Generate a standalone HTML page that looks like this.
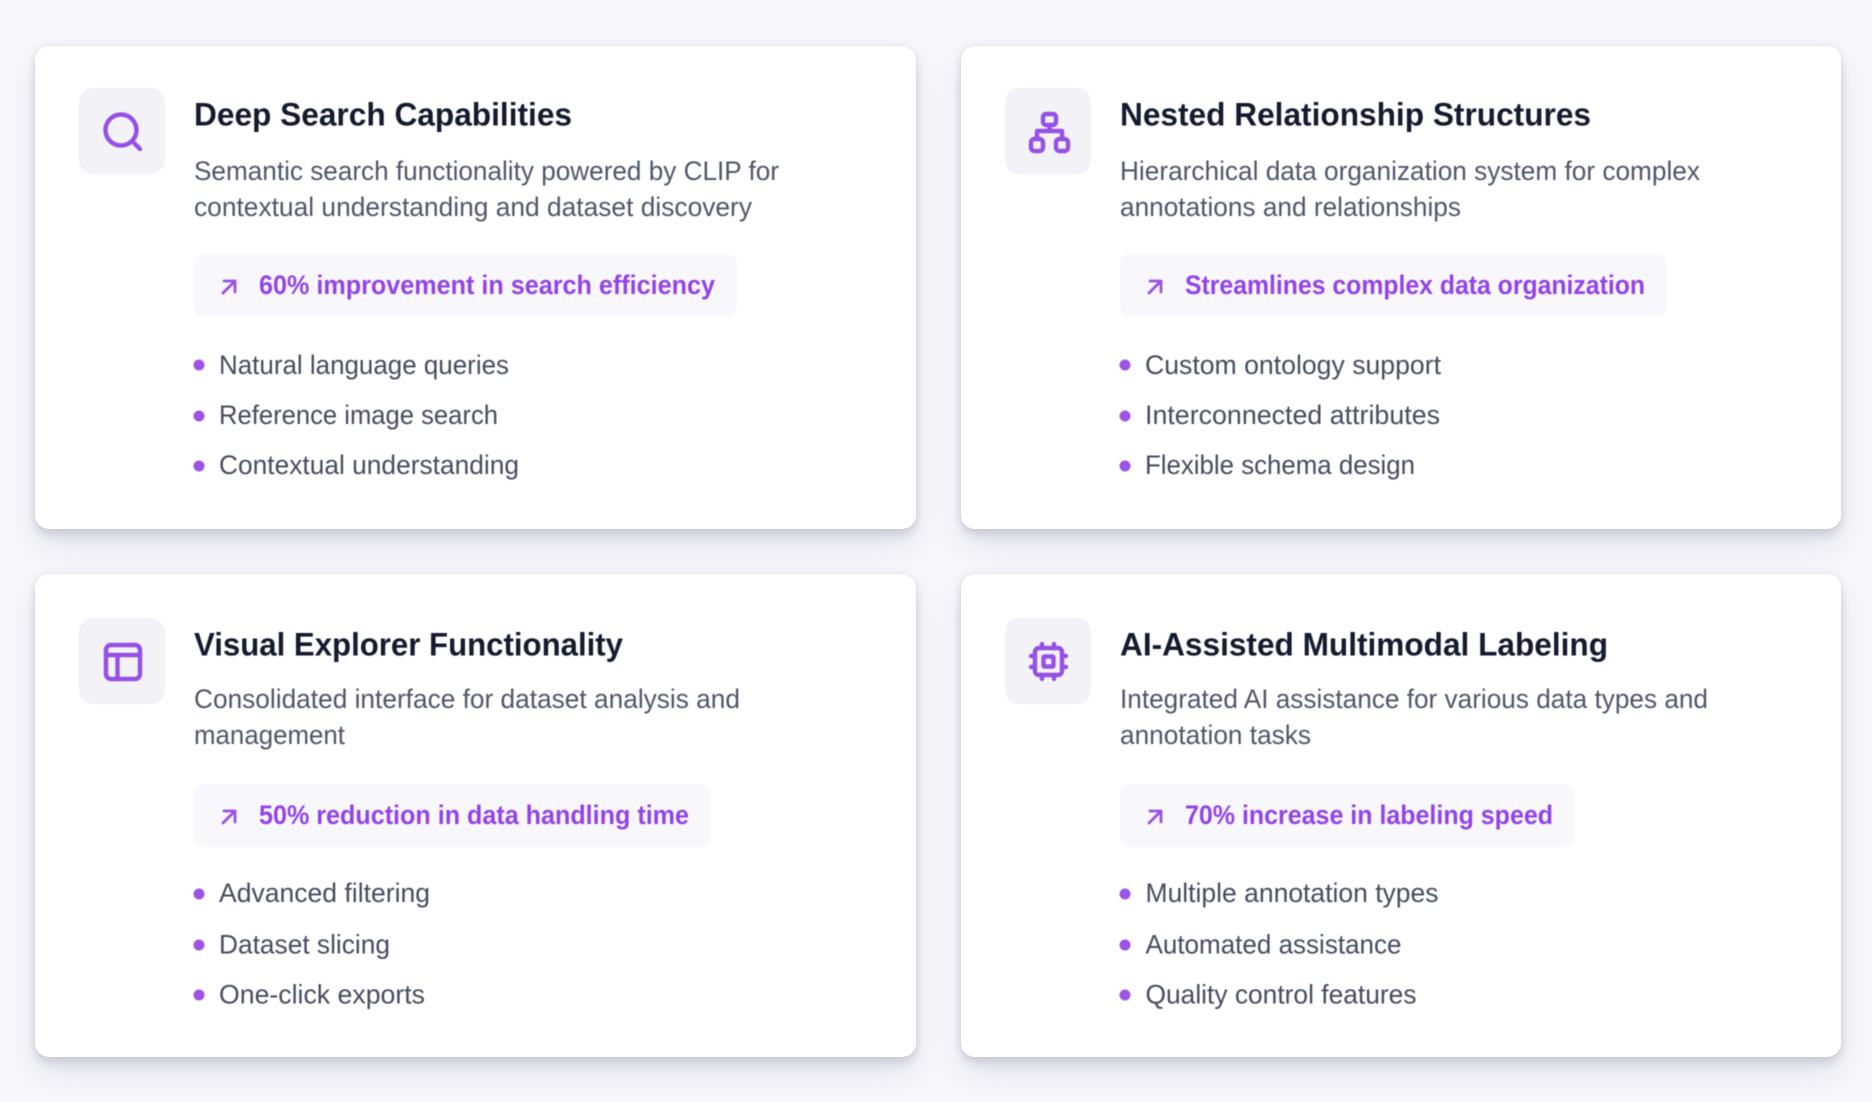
<!DOCTYPE html>
<html><head><meta charset="utf-8"><style>
html,body{margin:0;padding:0;width:1872px;height:1102px;overflow:hidden;background:#f8f8fc}
.c{position:absolute;background:#fff;border-radius:14px;box-shadow:0 16px 30px rgba(60,60,100,.12),0 6px 9px rgba(60,60,100,.12),0 0 8px rgba(60,60,100,.09)}
svg{position:absolute;left:0;top:0;filter:blur(.6px)}
text{font-family:"Liberation Sans",sans-serif}
.t{font-size:32px;font-weight:700;fill:#141b2e}
.d{font-size:26.500px;fill:#4f5668}
.m{font-size:26.500px;font-weight:700;fill:#9343e8}
.b{font-size:26.500px;fill:#464c5e}
.dot{fill:#9f52e6}
.box{fill:#f3f2f7}
.mb{fill:#f8f7fb}
.i{fill:none;stroke:#9550e6;stroke-width:4.400;stroke-linecap:round;stroke-linejoin:round}
.a{fill:none;stroke:#9a52e6;stroke-width:2.800;stroke-linecap:round;stroke-linejoin:round}
</style></head><body>
<div class="c" style="left:35px;top:46px;width:881px;height:483px"></div>
<div class="c" style="left:961px;top:46px;width:880px;height:483px"></div>
<div class="c" style="left:35px;top:574px;width:881px;height:483px"></div>
<div class="c" style="left:961px;top:574px;width:880px;height:483px"></div>
<svg width="1872" height="1102" viewBox="0 0 1872 1102" xmlns="http://www.w3.org/2000/svg">
<!-- Card 1 -->
<rect class="box" x="79" y="88" width="86" height="86" rx="14"/>
<circle class="i" cx="121" cy="130" r="15.500"/><path class="i" d="M132.500 141.500L140 149"/>
<text class="t" x="194" y="125.500" textLength="378" lengthAdjust="spacingAndGlyphs">Deep Search Capabilities</text>
<text class="d" x="194" y="180" textLength="585" lengthAdjust="spacingAndGlyphs">Semantic search functionality powered by CLIP for</text>
<text class="d" x="194" y="216" textLength="558" lengthAdjust="spacingAndGlyphs">contextual understanding and dataset discovery</text>
<rect class="mb" x="194" y="254" width="543" height="63" rx="10"/>
<path class="a" d="M223 293L235 281M224 281H235V292"/>
<text class="m" x="259" y="294" textLength="456" lengthAdjust="spacingAndGlyphs">60% improvement in search efficiency</text>
<circle class="dot" cx="199" cy="365" r="5.500"/><text class="b" x="219" y="374" textLength="290" lengthAdjust="spacingAndGlyphs">Natural language queries</text>
<circle class="dot" cx="199" cy="416" r="5.500"/><text class="b" x="219" y="424" textLength="279" lengthAdjust="spacingAndGlyphs">Reference image search</text>
<circle class="dot" cx="199" cy="466" r="5.500"/><text class="b" x="219" y="474" textLength="300" lengthAdjust="spacingAndGlyphs">Contextual understanding</text>
<!-- Card 2 -->
<rect class="box" x="1005" y="88" width="86" height="86" rx="14"/>
<rect class="i" x="1043" y="114" width="13" height="11" rx="3"/><rect class="i" x="1031" y="139" width="12" height="12" rx="3.500"/><rect class="i" x="1056" y="139" width="12" height="12" rx="3.500"/><path class="i" d="M1049.500 125V131M1037 139V131H1062V139"/>
<text class="t" x="1120" y="125.500" textLength="471" lengthAdjust="spacingAndGlyphs">Nested Relationship Structures</text>
<text class="d" x="1120" y="180" textLength="580" lengthAdjust="spacingAndGlyphs">Hierarchical data organization system for complex</text>
<text class="d" x="1120" y="216" textLength="341" lengthAdjust="spacingAndGlyphs">annotations and relationships</text>
<rect class="mb" x="1120" y="254" width="547" height="63" rx="10"/>
<path class="a" d="M1149 293L1161 281M1150 281H1161V292"/>
<text class="m" x="1185" y="294" textLength="460" lengthAdjust="spacingAndGlyphs">Streamlines complex data organization</text>
<circle class="dot" cx="1125" cy="365" r="5.500"/><text class="b" x="1145" y="374" textLength="296" lengthAdjust="spacingAndGlyphs">Custom ontology support</text>
<circle class="dot" cx="1125" cy="416" r="5.500"/><text class="b" x="1145" y="424" textLength="295" lengthAdjust="spacingAndGlyphs">Interconnected attributes</text>
<circle class="dot" cx="1125" cy="466" r="5.500"/><text class="b" x="1145" y="474" textLength="270" lengthAdjust="spacingAndGlyphs">Flexible schema design</text>
<!-- Card 3 -->
<rect class="box" x="79" y="618" width="86" height="86" rx="14"/>
<rect class="i" x="106" y="645" width="34" height="34" rx="5"/><path class="i" d="M106 655H140M117.500 655V679"/>
<text class="t" x="194" y="655.500" textLength="429" lengthAdjust="spacingAndGlyphs">Visual Explorer Functionality</text>
<text class="d" x="194" y="708" textLength="546" lengthAdjust="spacingAndGlyphs">Consolidated interface for dataset analysis and</text>
<text class="d" x="194" y="744" textLength="151" lengthAdjust="spacingAndGlyphs">management</text>
<rect class="mb" x="194" y="784" width="517" height="63" rx="10"/>
<path class="a" d="M223 823L235 811M224 811H235V822"/>
<text class="m" x="259" y="824" textLength="430" lengthAdjust="spacingAndGlyphs">50% reduction in data handling time</text>
<circle class="dot" cx="199" cy="894" r="5.500"/><text class="b" x="219" y="902" textLength="211" lengthAdjust="spacingAndGlyphs">Advanced filtering</text>
<circle class="dot" cx="199" cy="945" r="5.500"/><text class="b" x="219" y="953.500" textLength="171" lengthAdjust="spacingAndGlyphs">Dataset slicing</text>
<circle class="dot" cx="199" cy="995" r="5.500"/><text class="b" x="219" y="1003.500" textLength="206" lengthAdjust="spacingAndGlyphs">One-click exports</text>
<!-- Card 4 -->
<rect class="box" x="1005" y="618" width="86" height="86" rx="14"/>
<rect class="i" x="1035" y="648" width="27" height="27" rx="4"/><rect class="i" x="1043.500" y="656.500" width="10" height="10" rx="1"/>
<path class="i" d="M1042 644V648M1054 644V648M1042 675V679M1054 675V679M1031 656H1035M1031 667H1035M1062 656H1066M1062 667H1066"/>
<text class="t" x="1120" y="655.500" textLength="488" lengthAdjust="spacingAndGlyphs">AI-Assisted Multimodal Labeling</text>
<text class="d" x="1120" y="708" textLength="588" lengthAdjust="spacingAndGlyphs">Integrated AI assistance for various data types and</text>
<text class="d" x="1120" y="744" textLength="191" lengthAdjust="spacingAndGlyphs">annotation tasks</text>
<rect class="mb" x="1120" y="784" width="454" height="63" rx="10"/>
<path class="a" d="M1149 823L1161 811M1150 811H1161V822"/>
<text class="m" x="1185" y="824" textLength="368" lengthAdjust="spacingAndGlyphs">70% increase in labeling speed</text>
<circle class="dot" cx="1125" cy="894" r="5.500"/><text class="b" x="1145.500" y="902" textLength="293" lengthAdjust="spacingAndGlyphs">Multiple annotation types</text>
<circle class="dot" cx="1125" cy="945" r="5.500"/><text class="b" x="1145.500" y="953.500" textLength="256" lengthAdjust="spacingAndGlyphs">Automated assistance</text>
<circle class="dot" cx="1125" cy="995" r="5.500"/><text class="b" x="1145.500" y="1003.500" textLength="271" lengthAdjust="spacingAndGlyphs">Quality control features</text>
</svg>
</body></html>
